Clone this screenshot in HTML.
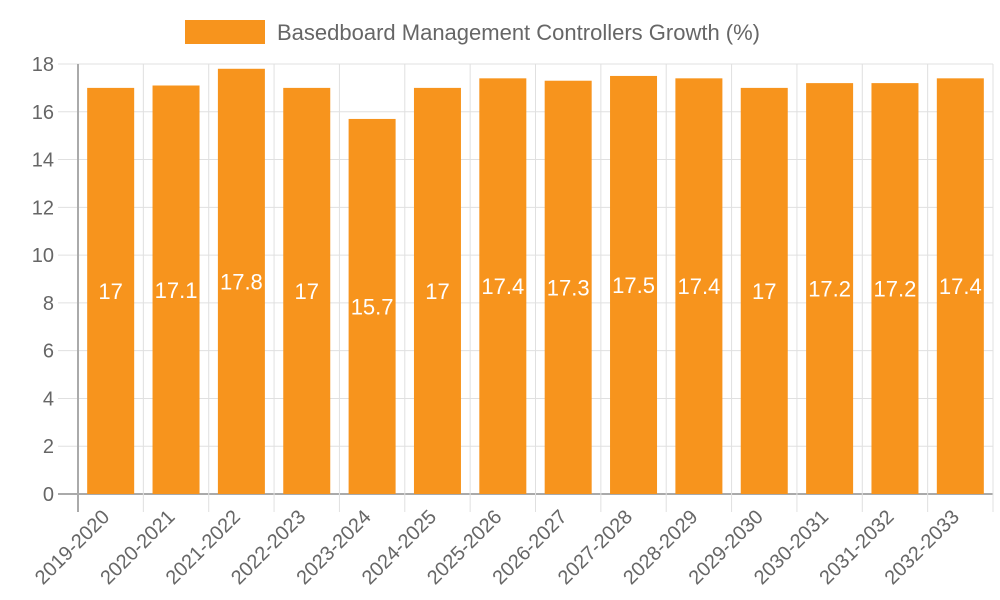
<!DOCTYPE html>
<html><head><meta charset="utf-8"><style>
body{margin:0;background:#fff;}
svg{display:block;font-family:"Liberation Sans",sans-serif;}
</style></head><body>
<svg id="chart" width="1000" height="600">
<g id="legend">
<rect x="185" y="20" width="80" height="24" fill="#f7941d"/>
<text x="277" y="40" font-size="22" fill="#666">Basedboard Management Controllers Growth (%)</text>
</g>
<g id="grid"></g><g id="bars"></g><g id="axes"></g>
</svg>
<script>
const categories=["2019-2020","2020-2021","2021-2022","2022-2023","2023-2024","2024-2025","2025-2026","2026-2027","2027-2028","2028-2029","2029-2030","2030-2031","2031-2032","2032-2033"];
const values=[17,17.1,17.8,17,15.7,17,17.4,17.3,17.5,17.4,17,17.2,17.2,17.4];
const yTicks=[0,2,4,6,8,10,12,14,16,18];
const NS="http://www.w3.org/2000/svg";
const L=78,R=993,T=64,B=494,yMax=18;
const bw=(R-L)/categories.length;
const y=v=>B-(v/yMax)*(B-T);
const xc=i=>L+bw*(i+0.5);
function mk(tag,attrs,parent){const e=document.createElementNS(NS,tag);for(const k in attrs)e.setAttribute(k,attrs[k]);parent.appendChild(e);return e;}
const grid=document.getElementById('grid'),bars=document.getElementById('bars'),axes=document.getElementById('axes');
yTicks.forEach(t=>{
  const l=mk('line',{x1:58,x2:R,y1:y(t),y2:y(t),stroke:t===0?'#aaa':'#e0e0e0','stroke-width':t===0?2:1},grid);
  
  
  const tx=mk('text',{x:54,y:y(t)+7,'text-anchor':'end','font-size':20,fill:'#666'},axes);
  tx.textContent=t;
  
  
});
for(let i=0;i<=categories.length;i++){
  const x=L+bw*i;
  const l=mk('line',{x1:x,x2:x,y1:T,y2:512,stroke:i===0?'#aaa':'#e0e0e0','stroke-width':i===0?2:1},grid);
  
  
}
categories.forEach((c,i)=>{
  const w=47;
  const r=mk('rect',{x:xc(i)-w/2,y:y(values[i]),width:w,height:B-y(values[i]),fill:'#f7941d'},bars);
  
  
  const v=mk('text',{x:xc(i),y:y(values[i]/2)+8,'text-anchor':'middle','font-size':22,fill:'#fff'},bars);
  v.textContent=values[i];
  
  
  const t=mk('text',{x:xc(i),y:518,'text-anchor':'end','font-size':20,fill:'#666',transform:`rotate(-45 ${xc(i)} 518)`},axes);
  t.textContent=c;
  
  
});
</script>
</body></html>
